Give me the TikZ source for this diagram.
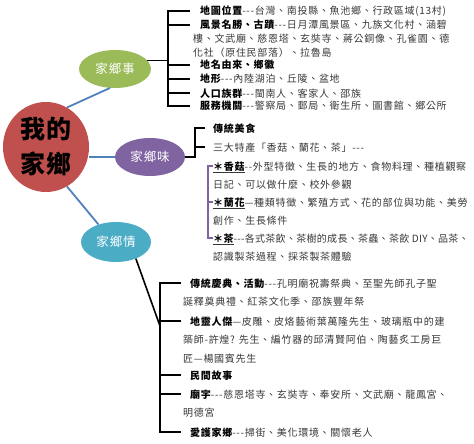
\documentclass[tikz,border=0pt]{standalone}
\usepackage{fontspec}
\usetikzlibrary{shapes.geometric}
\newfontfamily\hxcjk{Noto Sans CJK TC}[LetterSpace=7,Ligatures=TeXOff]
\newfontfamily\hxtight{Noto Sans CJK TC}[LetterSpace=3,Ligatures=TeXOff]
\definecolor{HxRed}{RGB}{192,80,77}
\definecolor{HxGreen}{RGB}{155,187,89}
\definecolor{HxPurple}{RGB}{128,100,162}
\definecolor{HxAqua}{RGB}{75,172,198}
\definecolor{HxBlue}{RGB}{79,129,189}
\definecolor{HxInk}{RGB}{55,55,55}
\newcommand\hxin{\hspace*{7pt}}
\newcommand\hxlbl[1]{\textbf{\color{black}#1}}
\newcommand\hxrows[1]{\begin{tabular}[t]{@{}l@{}}#1\end{tabular}}
\tikzset{
  hx/core/.style={
    ellipse,
    fill=HxRed,
    minimum width=86pt,
    minimum height=90pt,
    inner sep=0pt,
    align=center,
    text=black,
    font=\hxcjk\bfseries\fontsize{25}{35}\selectfont
  },
  hx/topic/.style={
    ellipse,
    minimum width=70pt,
    minimum height=38pt,
    inner sep=0pt,
    text=white,
    font=\hxcjk\fontsize{12.5}{14}\selectfont
  },
  hx/item/.style={
    anchor=base west,
    inner sep=0pt,
    text=HxInk,
    font=\hxcjk\fontsize{10}{13.6}\selectfont
  },
  hx/wide/.style={hx/item, font=\hxcjk\fontsize{10}{18}\selectfont},
  hx/wider/.style={hx/item, font=\hxcjk\fontsize{10}{18.7}\selectfont},
  hx/link/.style={draw=HxBlue, line width=1.8pt},
  hx/bracket/.style={draw=black, line width=1.6pt},
  hx/pbracket/.style={draw=HxPurple, line width=1.3pt}
}
\begin{document}
\begin{tikzpicture}[x=1pt,y=-1pt]
  \useasboundingbox (0,0) rectangle (474,444);
  \node[hx/core] (home) at (46,147) {我的\\家鄉};
  \node[hx/topic,fill=HxGreen,minimum width=72pt] (shi) at (115,69) {家鄉事};
  \node[hx/topic,fill=HxPurple] (wei) at (150,157) {家鄉味};
  \node[hx/topic,fill=HxAqua,minimum height=40pt] (qing) at (116,242) {家鄉情};
  \draw[hx/link] (home.62) -- (shi.255);
  \draw[hx/link] (wei.west -| home.east) -- (wei.west);
  \draw[hx/link] (home.-62) -- (qing.135);

  % 家鄉事
  \node[hx/item] (shi1) at (193,15) {\hxrows{\hxin\hxlbl{地圖位置}---台灣、南投縣、魚池鄉、行政區域(13村)}};
  \node[hx/item] (shi2) at (193,29) {\hxrows{\hxin\hxlbl{風景名勝、古蹟}---日月潭風景區、九族文化村、涵碧\\樓、文武廟、慈恩塔、玄奘寺、蔣公銅像、孔雀園、德\\化社（原住民部落）、拉魯島}};
  \node[hx/item] (shi3) at (193,69) {\hxrows{\hxin\hxlbl{地名由來、鄉徽}}};
  \node[hx/item] (shi4) at (193,83) {\hxrows{\hxin\hxlbl{地形}---內陸湖泊、丘陵、盆地}};
  \node[hx/item] (shi5) at (193,97) {\hxrows{\hxin\hxlbl{人口族群}---閩南人、客家人、邵族}};
  \node[hx/item] (shi6) at (193,110) {\hxrows{\hxin\hxlbl{服務機關}---警察局、郵局、衛生所、圖書館、鄉公所}};
  \coordinate (shi-bar) at (168,0);
  \draw[hx/bracket] ([xshift=-3pt,yshift=4pt]shi1.base west) -| ([yshift=4pt]shi6.base west -| shi-bar) -- ([xshift=-3pt,yshift=4pt]shi6.base west);
  \foreach \n in {2,...,5}
    \draw[hx/bracket] ([yshift=4pt]shi\n.base west -| shi-bar) -- ([xshift=-3pt,yshift=4pt]shi\n.base west);
  \draw[hx/bracket] (shi.15) -- (shi.15 -| shi-bar);

  % 家鄉味
  \node[hx/wide] (wei1) at (213,132) {\hxrows{\hxlbl{傳統美食}}};
  \node[hx/wide] (wei2) at (213,151) {\hxrows{三大特產「香菇、蘭花、茶」---}};
  \node[hx/wide] (wei3) at (213,170) {\hxrows{\underline{\hxlbl{＊香菇}}--外型特徵、生長的地方、食物料理、種植觀察\\日記、可以做什麼、校外參觀}};
  \node[hx/wide] (wei4) at (213,206) {\hxrows{\underline{\hxlbl{＊蘭花}}—種類特徵、繁殖方式、花的部位與功能、美勞\\創作、生長條件}};
  \node[hx/wide] (wei5) at (213,242) {\hxrows{\hxtight\underline{\hxlbl{＊茶}}---各式茶飲、茶樹的成長、茶蟲、茶飲 DIY、品茶、\\認識製茶過程、採茶製茶體驗}};
  \coordinate (wei-bar) at (195,0);
  \coordinate (wei-pbar) at (208,0);
  \draw[hx/bracket] ([xshift=-8pt,yshift=4pt]wei1.base west) -| (wei.east -| wei-bar) -- (wei.east);
  \draw[hx/bracket] ([yshift=4pt]wei2.base west -| wei-bar) -- ([xshift=-8pt,yshift=4pt]wei2.base west);
  \draw[hx/pbracket] ([yshift=4pt]wei3.base west) -| ([yshift=4pt]wei5.base west -| wei-pbar) -- ([yshift=4pt]wei5.base west);
  \draw[hx/pbracket] ([yshift=4pt]wei4.base west -| wei-pbar) -- ([yshift=4pt]wei4.base west);

  % 家鄉情
  \node[hx/wider] (qing1) at (183,287) {\hxrows{\hxin\hxlbl{傳統慶典、活動}---孔明廟祝壽祭典、至聖先師孔子聖\\誕釋奠典禮、紅茶文化季、邵族豐年祭}};
  \node[hx/wider] (qing2) at (183,325) {\hxrows{\hxin\hxlbl{地靈人傑}—皮雕、皮烙藝術葉萬隆先生、玻璃瓶中的建\\築師-許煌? 先生、編竹器的邱清賢阿伯、陶藝炙工房巨\\匠—楊國賓先生}};
  \node[hx/wider] (qing3) at (183,379) {\hxrows{\hxin\hxlbl{民間故事}}};
  \node[hx/wider] (qing4) at (183,398) {\hxrows{\hxin\hxlbl{廟宇}---慈恩塔寺、玄奘寺、奉安所、文武廟、龍鳳宮、\\明德宮}};
  \node[hx/wider] (qing5) at (183,436) {\hxrows{\hxin\hxlbl{愛護家鄉}---掃街、美化環境、關懷老人}};
  \coordinate (qing-bar) at (160,0);
  \coordinate (qing-join) at (160,326);
  \draw[hx/bracket] ([xshift=-2pt,yshift=4pt]qing1.base west) -| ([yshift=4pt]qing5.base west -| qing-bar) -- ([xshift=-2pt,yshift=4pt]qing5.base west);
  \foreach \n in {2,...,4}
    \draw[hx/bracket] ([yshift=4pt]qing\n.base west -| qing-bar) -- ([xshift=-2pt,yshift=4pt]qing\n.base west);
  \draw[hx/bracket] (qing.-40) -- (qing-join);
\end{tikzpicture}
\end{document}
